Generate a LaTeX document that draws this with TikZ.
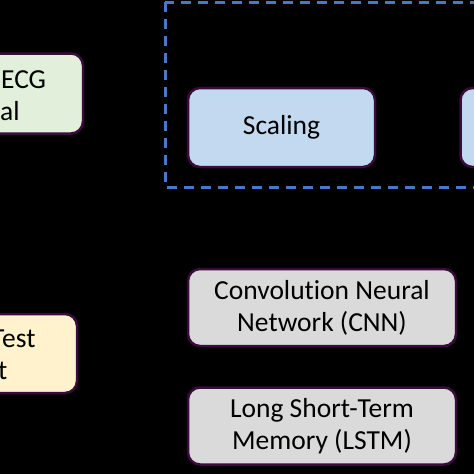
\documentclass[tikz,border=0pt]{standalone}
\usepackage{fontspec}
\setmainfont[Ligatures=NoCommon]{Carlito}
\usetikzlibrary{positioning}

\definecolor{ecggreen}{HTML}{E2EFDA}
\definecolor{scaleblue}{HTML}{C2D9F0}
\definecolor{splityellow}{HTML}{FFF2CC}
\definecolor{modelgray}{HTML}{DADADA}
\definecolor{boxedge}{HTML}{3A0B3C}
\definecolor{dashblue}{HTML}{4A78C8}

\tikzset{
	stagebox/.style={draw=boxedge, line width=2.5pt, rounded corners=12pt,
		inner sep=0pt, font=\fontsize{27.5}{32}\selectfont, text=black, align=center},
	cuttext/.style={inner sep=0pt, font=\fontsize{27.5}{32}\selectfont, text=black, align=left, anchor=base west}
}

\begin{document}
\begin{tikzpicture}[x=1pt,y=-1pt]
		\fill[black] (0,0) rectangle (474,474);
		\useasboundingbox (0,0) rectangle (474,474);
		\clip (0,0) rectangle (474,474);
		
		% preprocessing frame
		\draw[dashblue, line width=3pt, dash pattern=on 10pt off 7pt] (165,2) rectangle (520,187);
		
		% input and split
		\node[stagebox, fill=ecggreen, minimum width=200pt, minimum height=80pt] (ecg) at (-17,93.5) {};
		\node[cuttext] (ecgtext) at (1,88) {ECG};
		\node[cuttext] (ecgtext2) at (0,120) {al};
		
		\node[stagebox, fill=splityellow, minimum width=200pt, minimum height=79pt] (split) at (-23,353.5) {};
		\node[cuttext] (splittext) at (-9,347) {Test};
		\node[cuttext] (splittext2) at (-2,379) {t};
		
		% preprocessing steps
		\node[stagebox, fill=scaleblue, minimum width=187pt, minimum height=79pt] (scaling) at (281.5,127.5) {Scaling};
		\node[stagebox, fill=scaleblue, minimum width=187pt, minimum height=79pt, right=83pt of scaling] (nextstep) {};
		
		% models
		\node[stagebox, fill=modelgray, minimum width=268pt, minimum height=77pt] (cnn) at (322,307.5) {Convolution Neural\\Network (CNN)};
		\node[stagebox, fill=modelgray, minimum width=268pt, minimum height=77pt, below=39pt of cnn] (lstm) {Long Short-Term\\Memory (LSTM)};
		
	\end{tikzpicture}
\end{document}
